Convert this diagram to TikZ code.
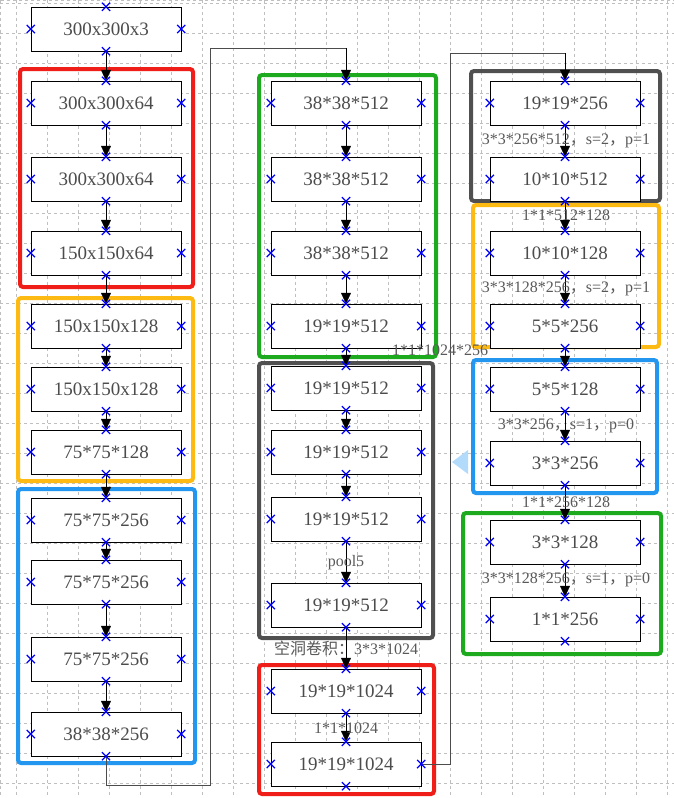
\documentclass[tikz,border=0pt]{standalone}
\usepackage{fontspec}
\setmainfont{Liberation Serif}
\newfontfamily\cjk{Noto Sans CJK SC}
\usetikzlibrary{arrows.meta,shapes.misc}
\definecolor{gred}{RGB}{240,30,25}
\definecolor{gyel}{RGB}{252,186,18}
\definecolor{gblu}{RGB}{35,150,240}
\definecolor{ggrn}{RGB}{30,170,30}
\definecolor{gdk}{RGB}{80,80,80}
\tikzset{
 bx/.style={draw=black,fill=white,minimum width=150pt,minimum height=44pt,inner sep=0pt,font=\fontsize{19}{19}\selectfont,text=black!70},
 xm/.style={cross out,draw=blue,line width=1.2pt,minimum size=7pt,inner sep=0pt},
 arr/.style={-{Triangle[width=10pt,length=11pt]},black},
 grp/.style={rounded corners=3pt,line width=4pt},
 lab/.style={font=\fontsize{16}{16}\selectfont,text=black!65,inner sep=1pt},
 wire/.style={draw=black!70,line width=0.8pt}
}
\begin{document}
\begin{tikzpicture}[x=1pt,y=-1pt]
\useasboundingbox[fill=white] (0,0) rectangle (674,798);
\draw[black!25,dashed,line width=0.6pt] (0,0) rectangle (674,798);
\foreach \gx in {16,47,...,674} \draw[black!25,dashed,line width=0.5pt] (\gx,0)--(\gx,798);
\foreach \gy in {3,33,...,798} \draw[black!25,dashed,line width=0.5pt] (0,\gy)--(674,\gy);
% groups
\draw[grp,gred] (20,69) rectangle (193,287);
\draw[grp,gyel] (18,298) rectangle (193,481);
\draw[grp,gblu] (18,489) rectangle (195,763);
\draw[grp,ggrn] (259,75) rectangle (436,357);
\draw[grp,gdk] (259,363) rectangle (433,638);
\draw[grp,gred] (259,665) rectangle (434,794);
\draw[grp,gdk] (471,71) rectangle (660,201);
\draw[grp,gyel] (473,205) rectangle (659,347);
\draw[grp,gblu] (473,360) rectangle (657,493);
\draw[grp,ggrn] (463,513) rectangle (661,654);
\fill[gblu!35] (452,462) -- (468,450) -- (468,474) -- cycle;
% left column
\node[bx] (L1) at (106,29) {300x300x3};
\node[bx] (L2) at (106,103) {300x300x64};
\node[bx] (L3) at (106,179) {300x300x64};
\node[bx] (L4) at (106,253) {150x150x64};
\node[bx] (L5) at (106,326) {150x150x128};
\node[bx] (L6) at (106,389) {150x150x128};
\node[bx] (L7) at (106,452) {75*75*128};
\node[bx] (L8) at (106,520) {75*75*256};
\node[bx] (L9) at (106,582) {75*75*256};
\node[bx] (L10) at (106,659) {75*75*256};
\node[bx] (L11) at (106,734) {38*38*256};
% middle
\node[bx] (M1) at (346,103) {38*38*512};
\node[bx] (M2) at (346,179) {38*38*512};
\node[bx] (M3) at (346,253) {38*38*512};
\node[bx] (M4) at (346,326) {19*19*512};
\node[bx] (M5) at (346,388) {19*19*512};
\node[bx] (M6) at (346,452) {19*19*512};
\node[bx] (M7) at (346,519) {19*19*512};
\node[bx] (M8) at (346,605) {19*19*512};
\node[bx] (M9) at (346,691) {19*19*1024};
\node[bx] (M10) at (346,764) {19*19*1024};
% right
\node[bx] (R1) at (565,103) {19*19*256};
\node[bx] (R2) at (565,179) {10*10*512};
\node[bx] (R3) at (565,253) {10*10*128};
\node[bx] (R4) at (565,326) {5*5*256};
\node[bx] (R5) at (565,389) {5*5*128};
\node[bx] (R6) at (565,463) {3*3*256};
\node[bx] (R7) at (565,542) {3*3*128};
\node[bx] (R8) at (565,619) {1*1*256};
% arrows in columns
\foreach \a/\b in {L1/L2,L2/L3,L3/L4,L4/L5,L5/L6,L6/L7,L7/L8,L8/L9,L9/L10,L10/L11,
 M1/M2,M2/M3,M3/M4,M4/M5,M5/M6,M6/M7,M7/M8,M8/M9,M9/M10,
 R1/R2,R2/R3,R3/R4,R4/R5,R5/R6,R6/R7,R7/R8}
 \draw[arr] (\a.south) -- (\b.north);
% cross-column wires
\coordinate (w1) at (106,785); \coordinate (w2) at (210,785);
\coordinate (w3) at (210,48); \coordinate (w4) at (346,48);
\draw[wire] (L11.south) -- (w1) -- (w2) -- (w3) -- (w4);
\draw[arr] (w4) -- (M1.north);
\coordinate (v1) at (450,764); \coordinate (v2) at (450,53); \coordinate (v3) at (565,53);
\draw[wire] (M10.east) -- (v1) -- (v2) -- (v3);
\draw[arr] (v3) -- (R1.north);
% labels
\node[lab] (t1) at (440,350) {1*1*1024*256};
\node[lab] (t2) at (346,563) {pool5};
\node[lab] (t3) at (346,648) {{\cjk 空洞卷积：}3*3*1024};
\node[lab] (t4) at (346,728) {1*1*1024};
\node[lab] (t5) at (566,141) {3*3*256*512{\cjk ，}s=2{\cjk ，}p=1};
\node[lab] (t6) at (566,215) {1*1*512*128};
\node[lab] (t7) at (566,289) {3*3*128*256{\cjk ，}s=2{\cjk ，}p=1};
\node[lab] (t8) at (566,426) {3*3*256{\cjk ，}s=1{\cjk ，}p=0};
\node[lab] (t9) at (566,502) {1*1*256*128};
\node[lab] (t10) at (566,580) {3*3*128*256{\cjk ，}s=1{\cjk ，}p=0};
% crosses
\foreach \n in {L1,L2,L3,L4,L5,L6,L7,L8,L9,L10,L11,M1,M2,M3,M4,M5,M6,M7,M8,M9,M10,R1,R2,R3,R4,R5,R6,R7,R8}{
 \node[xm] at (\n.north) {}; \node[xm] at (\n.south) {};
 \node[xm] at (\n.west) {}; \node[xm] at (\n.east) {};}
\end{tikzpicture}
\end{document}
